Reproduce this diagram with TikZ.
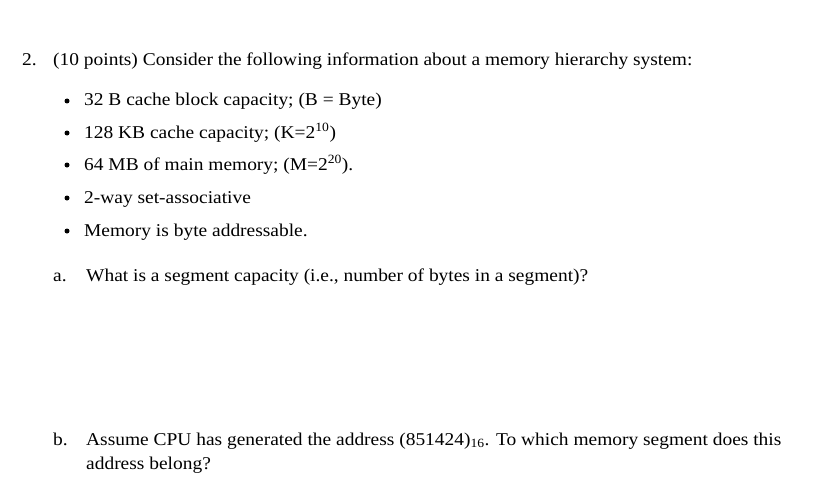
\documentclass[tikz,border=0pt]{standalone}
\usepackage{fontspec}
\setmainfont{Liberation Serif}[FakeStretch=1.08]
\begin{document}
\begin{tikzpicture}[x=1pt,y=-1pt,
  txt/.style={anchor=base west,inner sep=0pt,font=\fontsize{18}{21}\selectfont},
  dot/.style={circle,fill=black,inner sep=0pt,minimum size=5pt}]
\useasboundingbox (0,0) rectangle (821,500);
\node[txt] (n2) at (22,66) {2.};
\node[txt] (t2) at (53,66) {(10 points) Consider the following information about a memory hierarchy system:};
\node[dot] (d1) at (67,101) {}; \node[txt] (b1) at (84,106) {32 B cache block capacity; (B = Byte)};
\node[dot] (d2) at (67,133) {}; \node[txt] (b2) at (84,138) {128 KB cache capacity; (K=2\textsuperscript{10})};
\node[dot] (d3) at (67,165) {}; \node[txt] (b3) at (84,170) {64 MB of main memory; (M=2\textsuperscript{20}).};
\node[dot] (d4) at (67,198) {}; \node[txt] (b4) at (84,203) {2-way set-associative};
\node[dot] (d5) at (67,231) {}; \node[txt] (b5) at (84,236) {Memory is byte addressable.};
\node[txt] (la) at (53,281) {a.};
\node[txt] (qa) at (86,281) {What is a segment capacity (i.e., number of bytes in a segment)?};
\node[txt] (lb) at (53,445) {b.};
\node[txt] (qb) at (86,445) {Assume CPU has generated the address (851424)\textsubscript{16}. To which memory segment does this};
\node[txt] (qb2) at (86,469) {address belong?};
\end{tikzpicture}
\end{document}
